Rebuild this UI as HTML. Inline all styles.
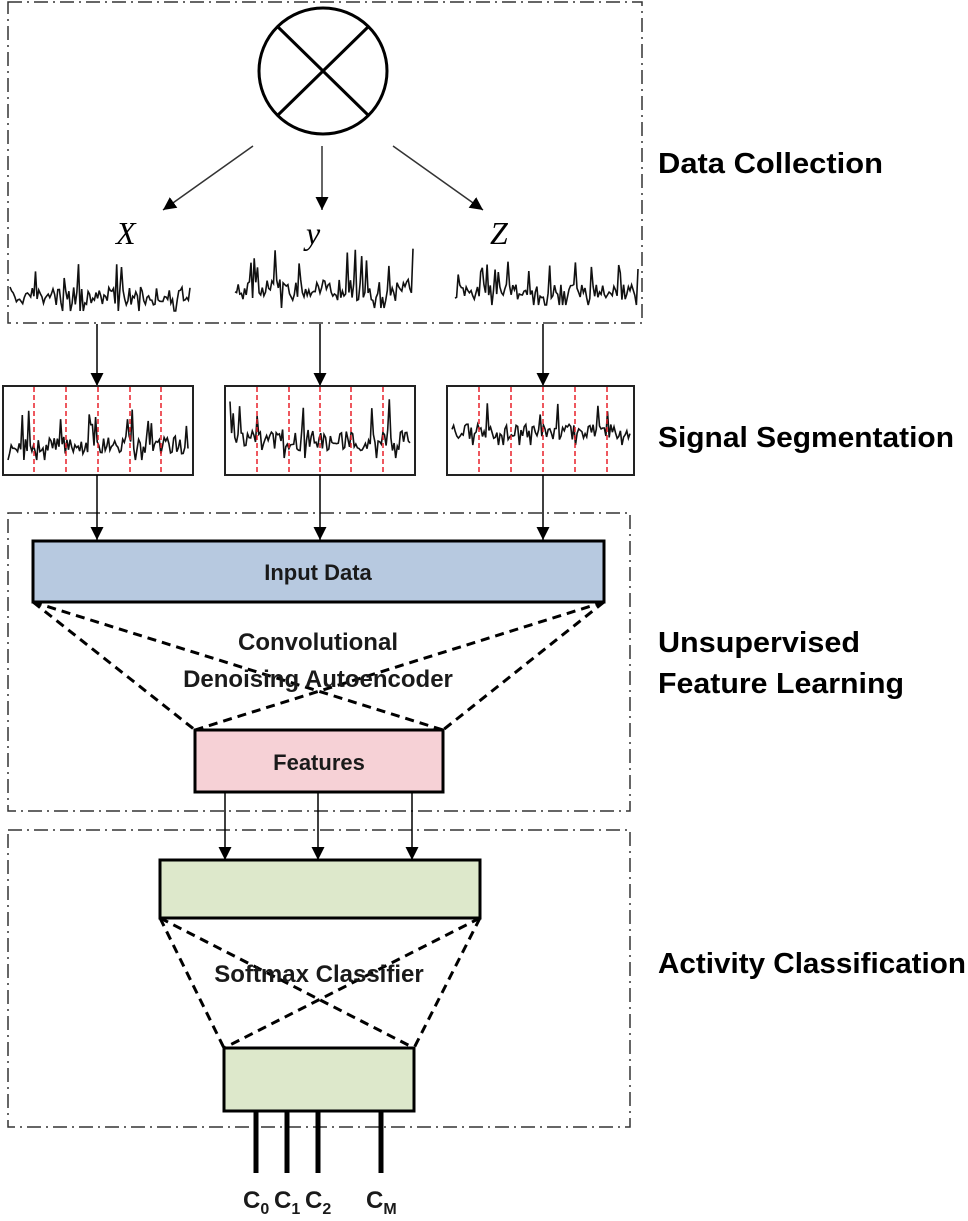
<!DOCTYPE html>
<html><head><meta charset="utf-8"><style>
html,body{margin:0;padding:0;background:#fff;}
svg{display:block;}
.lbl{font-family:"Liberation Sans",sans-serif;font-weight:bold;font-size:29px;fill:#000;}
.in{font-family:"Liberation Sans",sans-serif;font-weight:bold;font-size:22px;fill:#1a1a1a;}
.ax{font-family:"Liberation Serif",serif;font-style:italic;font-size:32px;fill:#000;}
</style></head><body>
<svg id="s" width="968" height="1221" viewBox="0 0 968 1221" xmlns="http://www.w3.org/2000/svg">
<defs>
<marker id="ar2" viewBox="0 0 10 10" refX="10" refY="5" markerWidth="13" markerHeight="13" markerUnits="userSpaceOnUse" orient="auto"><path d="M0,0 L10,5 L0,10 z" fill="#000"/></marker>
</defs>
<g fill="none" stroke="#333" stroke-width="1.5" stroke-dasharray="14,5,2,5">
<rect x="8" y="2" width="634" height="321"/>
<rect x="8" y="513" width="622" height="298"/>
<rect x="8" y="830" width="622" height="297"/>
</g>
<ellipse cx="323" cy="71" rx="64" ry="63" fill="none" stroke="#000" stroke-width="3"/>
<line x1="278" y1="27" x2="368" y2="115" stroke="#000" stroke-width="3"/>
<line x1="368" y1="27" x2="278" y2="115" stroke="#000" stroke-width="3"/>
<g stroke="#333" stroke-width="1.5">
<line x1="253" y1="146" x2="163" y2="210" marker-end="url(#ar2)"/>
<line x1="322" y1="146" x2="322" y2="210" marker-end="url(#ar2)"/>
<line x1="393" y1="146" x2="483" y2="210" marker-end="url(#ar2)"/>
</g>
<text class="ax" x="116" y="244">X</text>
<text class="ax" x="306" y="244">y</text>
<text class="ax" x="490" y="244">Z</text>
<g id="sig" fill="none" stroke="#111" stroke-width="1.6"></g>
<g stroke="#000" stroke-width="1.5">
<line x1="97" y1="324" x2="97" y2="386" marker-end="url(#ar2)"/>
<line x1="320" y1="324" x2="320" y2="386" marker-end="url(#ar2)"/>
<line x1="543" y1="324" x2="543" y2="386" marker-end="url(#ar2)"/>
</g>
<g fill="none" stroke="#222" stroke-width="2">
<rect x="3" y="386" width="190" height="89"/>
<rect x="225" y="386" width="190" height="89"/>
<rect x="447" y="386" width="187" height="89"/>
</g>
<g stroke="#e8202a" stroke-width="1.5" stroke-dasharray="5,3">
<line x1="34" y1="387" x2="34" y2="474"/><line x1="66" y1="387" x2="66" y2="474"/><line x1="98" y1="387" x2="98" y2="474"/><line x1="130" y1="387" x2="130" y2="474"/><line x1="161" y1="387" x2="161" y2="474"/>
<line x1="257" y1="387" x2="257" y2="474"/><line x1="289" y1="387" x2="289" y2="474"/><line x1="320" y1="387" x2="320" y2="474"/><line x1="351" y1="387" x2="351" y2="474"/><line x1="383" y1="387" x2="383" y2="474"/>
<line x1="479" y1="387" x2="479" y2="474"/><line x1="511" y1="387" x2="511" y2="474"/><line x1="543" y1="387" x2="543" y2="474"/><line x1="575" y1="387" x2="575" y2="474"/><line x1="607" y1="387" x2="607" y2="474"/>
</g>
<g stroke="#000" stroke-width="1.5">
<line x1="97" y1="475" x2="97" y2="540" marker-end="url(#ar2)"/>
<line x1="320" y1="475" x2="320" y2="540" marker-end="url(#ar2)"/>
<line x1="543" y1="475" x2="543" y2="540" marker-end="url(#ar2)"/>
</g>
<rect x="33" y="541" width="571" height="61" fill="#b7c9e0" stroke="#000" stroke-width="3"/>
<text class="in" x="318" y="580" text-anchor="middle">Input Data</text>
<g stroke="#000" stroke-width="3" stroke-dasharray="9,6">
<line x1="33" y1="602" x2="195" y2="730"/><line x1="33" y1="602" x2="443" y2="730"/>
<line x1="604" y1="602" x2="195" y2="730"/><line x1="604" y1="602" x2="443" y2="730"/>
</g>
<text class="in" x="318" y="650" text-anchor="middle" style="font-size:24px">Convolutional</text>
<text class="in" x="318" y="687" text-anchor="middle" style="font-size:24px">Denoising Autoencoder</text>
<rect x="195" y="730" width="248" height="62" fill="#f6d1d6" stroke="#000" stroke-width="3"/>
<text class="in" x="319" y="770" text-anchor="middle">Features</text>
<g stroke="#000" stroke-width="1.5">
<line x1="225" y1="792" x2="225" y2="860" marker-end="url(#ar2)"/>
<line x1="318" y1="792" x2="318" y2="860" marker-end="url(#ar2)"/>
<line x1="412" y1="792" x2="412" y2="860" marker-end="url(#ar2)"/>
</g>
<rect x="160" y="860" width="320" height="58" fill="#dde8cb" stroke="#000" stroke-width="3"/>
<g stroke="#000" stroke-width="3" stroke-dasharray="9,6">
<line x1="160" y1="918" x2="224" y2="1048"/><line x1="160" y1="918" x2="414" y2="1048"/>
<line x1="480" y1="918" x2="224" y2="1048"/><line x1="480" y1="918" x2="414" y2="1048"/>
</g>
<text class="in" x="319" y="982" text-anchor="middle" style="font-size:24px">Softmax Classifier</text>
<rect x="224" y="1048" width="190" height="63" fill="#dde8cb" stroke="#000" stroke-width="3"/>
<g stroke="#000" stroke-width="5">
<line x1="256" y1="1111" x2="256" y2="1173"/><line x1="287" y1="1111" x2="287" y2="1173"/>
<line x1="318" y1="1111" x2="318" y2="1173"/><line x1="381" y1="1111" x2="381" y2="1173"/>
</g>
<g class="in" style="font-size:24px">
<text x="243" y="1208">C<tspan font-size="16" dy="6">0</tspan></text>
<text x="274" y="1208">C<tspan font-size="16" dy="6">1</tspan></text>
<text x="305" y="1208">C<tspan font-size="16" dy="6">2</tspan></text>
<text x="366" y="1208">C<tspan font-size="16" dy="6">M</tspan></text>
</g>
<text class="lbl" x="658" y="173" textLength="225" lengthAdjust="spacingAndGlyphs">Data Collection</text>
<text class="lbl" x="658" y="447" textLength="296" lengthAdjust="spacingAndGlyphs">Signal Segmentation</text>
<text class="lbl" x="658" y="652" textLength="202" lengthAdjust="spacingAndGlyphs">Unsupervised</text>
<text class="lbl" x="658" y="693" textLength="246" lengthAdjust="spacingAndGlyphs">Feature Learning</text>
<text class="lbl" x="658" y="973" textLength="308" lengthAdjust="spacingAndGlyphs">Activity Classification</text>
</svg>
<script>
(function(){
var seed=7;function r(){seed=(seed*16807)%2147483647;return seed/2147483647;}
var g=document.getElementById('sig');var NS='http://www.w3.org/2000/svg';
function sig(x0,x1,yb,amp){var p=[];var n=Math.round((x1-x0)/1.6);for(var i=0;i<=n;i++){var x=x0+(x1-x0)*i/n;var y=yb+(r()-0.5)*amp*0.6;if(r()<0.08)y=yb-amp*(0.6+r()*0.6);if(r()<0.05)y=yb+amp*0.5;p.push(x.toFixed(1)+','+y.toFixed(1));}
var pl=document.createElementNS(NS,'polyline');pl.setAttribute('points',p.join(' '));g.appendChild(pl);}
sig(10,190,296,30);sig(235,413,290,36);sig(455,638,292,26);
sig(8,188,445,30);sig(230,410,440,36);sig(452,630,432,26);
})();
</script>
</body></html>
